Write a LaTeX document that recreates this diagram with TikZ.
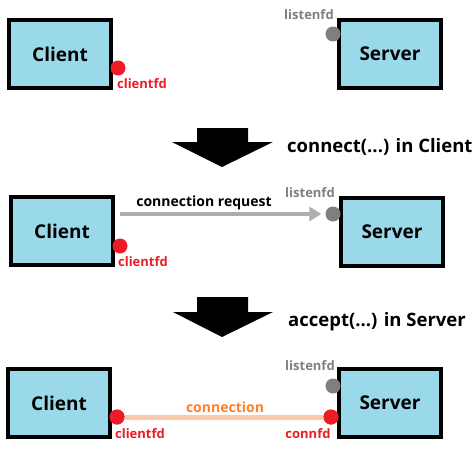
\documentclass[tikz,border=0pt]{standalone}
\usepackage{fontspec}
\setmainfont{Open Sans}[BoldFont={* Bold}]
\usetikzlibrary{arrows.meta}
\definecolor{boxblue}{RGB}{153,217,234}
\definecolor{dotred}{RGB}{237,28,36}
\definecolor{dotgray}{RGB}{127,127,127}
\definecolor{txtorange}{RGB}{255,127,39}
\definecolor{lineorange}{RGB}{250,200,170}
\definecolor{reqgray}{RGB}{175,175,175}
\begin{document}
\begin{tikzpicture}[x=1pt,y=-1pt,
  hostbox/.style={draw=black,line width=4pt,fill=boxblue,minimum width=102pt,minimum height=68pt,inner sep=0pt,font=\bfseries\fontsize{19}{19}\selectfont},
  reddot/.style={circle,fill=dotred,minimum size=15pt,inner sep=0pt},
  graydot/.style={circle,fill=dotgray,minimum size=15pt,inner sep=0pt},
  redlbl/.style={text=dotred,font=\bfseries\fontsize{13}{13}\selectfont,inner sep=0pt},
  graylbl/.style={text=dotgray,font=\bfseries\fontsize{13}{13}\selectfont,inner sep=0pt},
  steplbl/.style={font=\bfseries\fontsize{18.5}{18.5}\selectfont,inner sep=0pt,anchor=west},
  bigarrow/.style={fill=black}]
\useasboundingbox (0,0) rectangle (474,455);
% Row 1
\node[hostbox] (c1) at (60,54) {Client};
\node[hostbox] (s1) at (390,54) {Server};
\node[reddot] (cf1) at (118,68) {};
\node[redlbl] (cfl1) at (142,84) {clientfd};
\node[graydot] (l1) at (333,34) {};
\node[graylbl] (ll1) at (309,15) {listenfd};
% Arrow 1
\fill[bigarrow] (197,128) -- (248,128) -- (248,142) -- (273,142) -- (222,167) -- (172,142) -- (197,142) -- cycle;
\node[steplbl] (t1) at (287,147) {connect(...) in Client};
% Row 2
\node[hostbox] (c2) at (62,231) {Client};
\node[hostbox] (s2) at (392,232) {Server};
\node[reddot] (cf2) at (120,246) {};
\node[redlbl] (cfl2) at (143,262) {clientfd};
\node[graydot] (l2) at (333,214) {};
\node[graylbl] (ll2) at (310,193) {listenfd};
\draw[reqgray,line width=3.5pt,-{Triangle[length=12pt,width=14pt]},shorten >=4pt,shorten <=5pt] (c2.east |- l2) -- (l2.west);
\draw[gray!70,line width=0.6pt,dash pattern=on 2pt off 2pt] ([xshift=5pt]c2.east |- l2) -- ([xshift=-16pt]l2.west);
\node[font=\bfseries\fontsize{14}{14}\selectfont,inner sep=0pt] (req) at (204,203) {connection request};
% Arrow 2
\fill[bigarrow] (197,297) -- (248,297) -- (248,312) -- (273,312) -- (222,337) -- (173,312) -- (197,312) -- cycle;
\node[steplbl] (t2) at (288,322) {accept(...) in Server};
% Row 3
\node[hostbox] (c3) at (59,403) {Client};
\node[hostbox] (s3) at (390,403) {Server};
\node[graydot] (l3) at (333,386) {};
\node[graylbl] (ll3) at (310,366) {listenfd};
\node[reddot] (cf3) at (117,417) {};
\node[reddot] (cn3) at (331,417) {};
\draw[lineorange,line width=5pt] (cf3) -- (cn3);
\node[reddot] at (cf3) {};
\node[reddot] at (cn3) {};
\node[redlbl] (cfl3) at (140,434) {clientfd};
\node[redlbl] (cnl3) at (308,434) {connfd};
\node[text=txtorange,font=\bfseries\fontsize{14}{14}\selectfont,inner sep=0pt] (conn) at (225,407) {connection};
\end{tikzpicture}
\end{document}
